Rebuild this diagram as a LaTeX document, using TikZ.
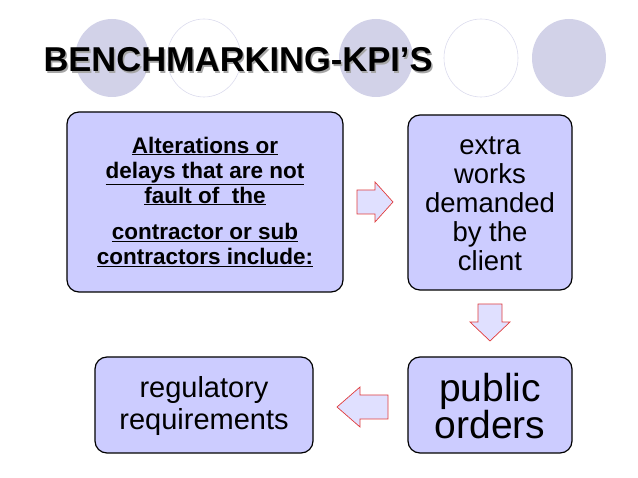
\documentclass[tikz,border=0pt]{standalone}
\usepackage{fontspec}
\setmainfont{Liberation Sans}
\definecolor{lav}{RGB}{204,204,255}
\definecolor{circ}{RGB}{210,210,232}
\definecolor{arr}{RGB}{225,60,60}
\newcommand{\ul}[1]{\underline{#1}}
\tikzset{
 box/.style={draw=black,line width=1.2pt,rounded corners=12pt,fill=lav},
 blk/.style={draw=arr,fill=lav!60,line width=0.7pt},
 txt/.style={align=center}
}
\begin{document}
\begin{tikzpicture}[x=1pt,y=-1pt]
\useasboundingbox (0,0) rectangle (638,478);
\fill[circ] (112,58) ellipse (37 and 39);
\draw[circ!80,line width=0.6pt] (204,58) ellipse (37 and 39);
\fill[circ] (376,58) ellipse (37 and 39);
\draw[circ!80,line width=0.6pt] (481,58) ellipse (37 and 39);
\fill[circ] (569,58) ellipse (37 and 39);
\node[anchor=base west,text=black!35,font=\bfseries\fontsize{34.5}{40}\selectfont] at (41.5,73.5) {BENCHMARKING-KPI’S};
\node[anchor=base west,font=\bfseries\fontsize{34.5}{40}\selectfont] (title) at (40,72) {BENCHMARKING-KPI’S};
\draw[box] (67,112) rectangle (343,292);
\draw[box] (408,115) rectangle (572,290);
\draw[box] (408,357) rectangle (572,453);
\draw[box] (95,357) rectangle (313,453);
\node[txt,font=\bfseries\fontsize{22.5}{25}\selectfont] (t1) at (205,171) {\ul{Alterations or}\\\ul{delays that are not}\\\ul{fault of\ \ the}};
\node[txt,font=\bfseries\fontsize{22.5}{25}\selectfont] (t1b) at (205,245) {\ul{contractor or sub}\\\ul{contractors include:}};
\node[txt,font=\fontsize{27.5}{29}\selectfont] (t2) at (490,204) {extra\\works\\demanded\\by the\\client};
\node[txt,font=\fontsize{39}{35}\selectfont] (t3) at (490,406) {public\\orders};
\node[txt,font=\fontsize{29}{32}\selectfont] (t4) at (204,406) {regulatory\\requirements};
\draw[blk] (357,190) -- (375,190) -- (375,182) -- (393,202) -- (375,222) -- (375,214) -- (357,214) -- cycle;
\draw[blk] (478,304) -- (502,304) -- (502,322) -- (510,322) -- (490,341) -- (470,322) -- (478,322) -- cycle;
\draw[blk] (388,395) -- (360,395) -- (360,387) -- (337,407) -- (360,427) -- (360,419) -- (388,419) -- cycle;
\end{tikzpicture}
\end{document}
